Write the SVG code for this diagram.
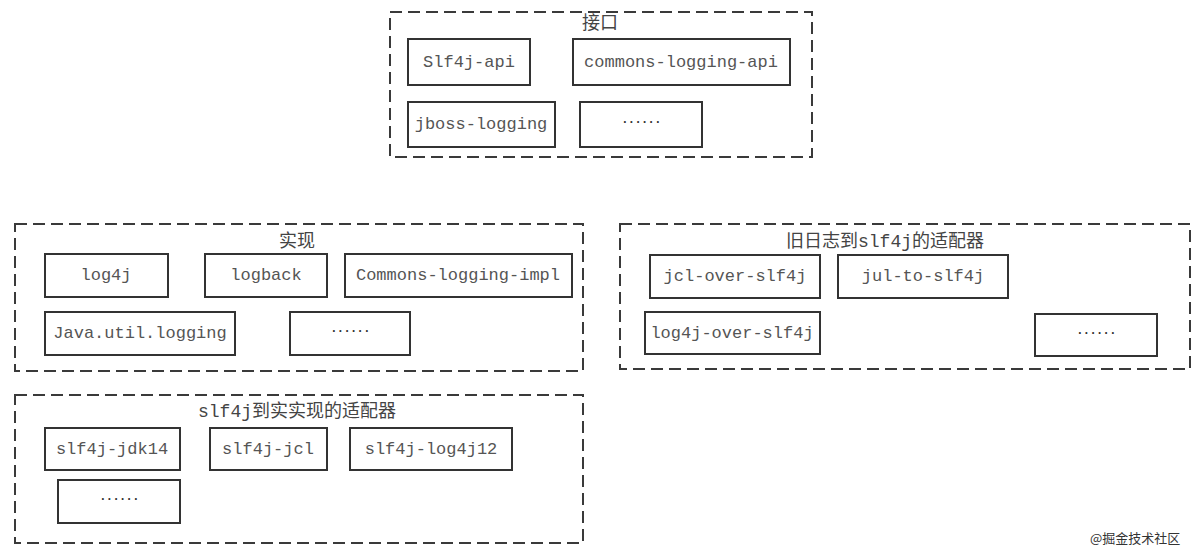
<svg xmlns="http://www.w3.org/2000/svg" width="1200" height="551" viewBox="0 0 1200 551">
<style>
.grp{fill:none;stroke:#3a3a3a;stroke-width:2;stroke-dasharray:12 6}
.box{fill:#fff;stroke:#333;stroke-width:2}
.t{font-family:"Liberation Mono","DejaVu Sans Mono",monospace;font-size:17px;fill:#555;text-anchor:middle;dominant-baseline:central}
.d{font-family:"Liberation Mono","DejaVu Sans Mono",monospace;font-size:12px;font-weight:bold;fill:#333;text-anchor:middle;letter-spacing:-0.6px}
.h{font-family:"Liberation Mono","Noto Sans CJK SC",monospace;font-size:18px;fill:#444;text-anchor:middle;dominant-baseline:central}
.wm{font-family:"Noto Sans CJK SC",sans-serif;font-size:13px;fill:#333;dominant-baseline:central}
</style>
<rect width="1200" height="551" fill="#fff"/>
<g id="api">
<rect class="grp" x="390" y="12" width="422" height="145"/>
<text class="h" x="600" y="24">接口</text>
<g id="slf4j-api"><rect class="box" x="408" y="39" width="122" height="46"/><text class="t" x="469" y="62">Slf4j-api</text></g>
<g id="commons-logging-api"><rect class="box" x="573" y="39" width="217" height="46"/><text class="t" x="681" y="62">commons-logging-api</text></g>
<g id="jboss-logging"><rect class="box" x="408" y="102" width="147" height="45"/><text class="t" x="481" y="124">jboss-logging</text></g>
<g id="api-more"><rect class="box" x="580" y="102" width="122" height="45"/><text class="d" x="641" y="123">......</text></g>
</g>
<g id="impl">
<rect class="grp" x="15" y="224" width="568" height="147"/>
<text class="h" x="297" y="242">实现</text>
<g id="log4j"><rect class="box" x="45" y="254" width="123" height="43"/><text class="t" x="106" y="275">log4j</text></g>
<g id="logback"><rect class="box" x="205" y="254" width="122" height="43"/><text class="t" x="266" y="275">logback</text></g>
<g id="commons-logging-impl"><rect class="box" x="345" y="254" width="227" height="43"/><text class="t" x="458" y="275">Commons-logging-impl</text></g>
<g id="jul"><rect class="box" x="45" y="312" width="190" height="43"/><text class="t" x="140" y="333">Java.util.logging</text></g>
<g id="impl-more"><rect class="box" x="290" y="312" width="120" height="43"/><text class="d" x="350" y="332">......</text></g>
</g>
<g id="bridge">
<rect class="grp" x="620" y="224" width="570" height="145"/>
<text class="h" x="885" y="242">旧日志到slf4j的适配器</text>
<g id="jcl-over-slf4j"><rect class="box" x="650" y="255" width="170" height="43"/><text class="t" x="735" y="276">jcl-over-slf4j</text></g>
<g id="jul-to-slf4j"><rect class="box" x="838" y="255" width="170" height="43"/><text class="t" x="923" y="276">jul-to-slf4j</text></g>
<g id="log4j-over-slf4j"><rect class="box" x="645" y="312" width="175" height="42"/><text class="t" x="732" y="333">log4j-over-slf4j</text></g>
<g id="bridge-more"><rect class="box" x="1035" y="314" width="122" height="42"/><text class="d" x="1096" y="334">......</text></g>
</g>
<g id="binding">
<rect class="grp" x="15" y="395" width="568" height="148"/>
<text class="h" x="297" y="412">slf4j到实实现的适配器</text>
<g id="slf4j-jdk14"><rect class="box" x="45" y="428" width="135" height="42"/><text class="t" x="112" y="449">slf4j-jdk14</text></g>
<g id="slf4j-jcl"><rect class="box" x="210" y="428" width="117" height="42"/><text class="t" x="268" y="449">slf4j-jcl</text></g>
<g id="slf4j-log4j12"><rect class="box" x="350" y="428" width="162" height="42"/><text class="t" x="431" y="449">slf4j-log4j12</text></g>
<g id="binding-more"><rect class="box" x="58" y="480" width="122" height="43"/><text class="d" x="119" y="500">......</text></g>
</g>
<g id="connectors"></g>
<text class="wm" x="1090" y="537">@掘金技术社区</text>
</svg>
